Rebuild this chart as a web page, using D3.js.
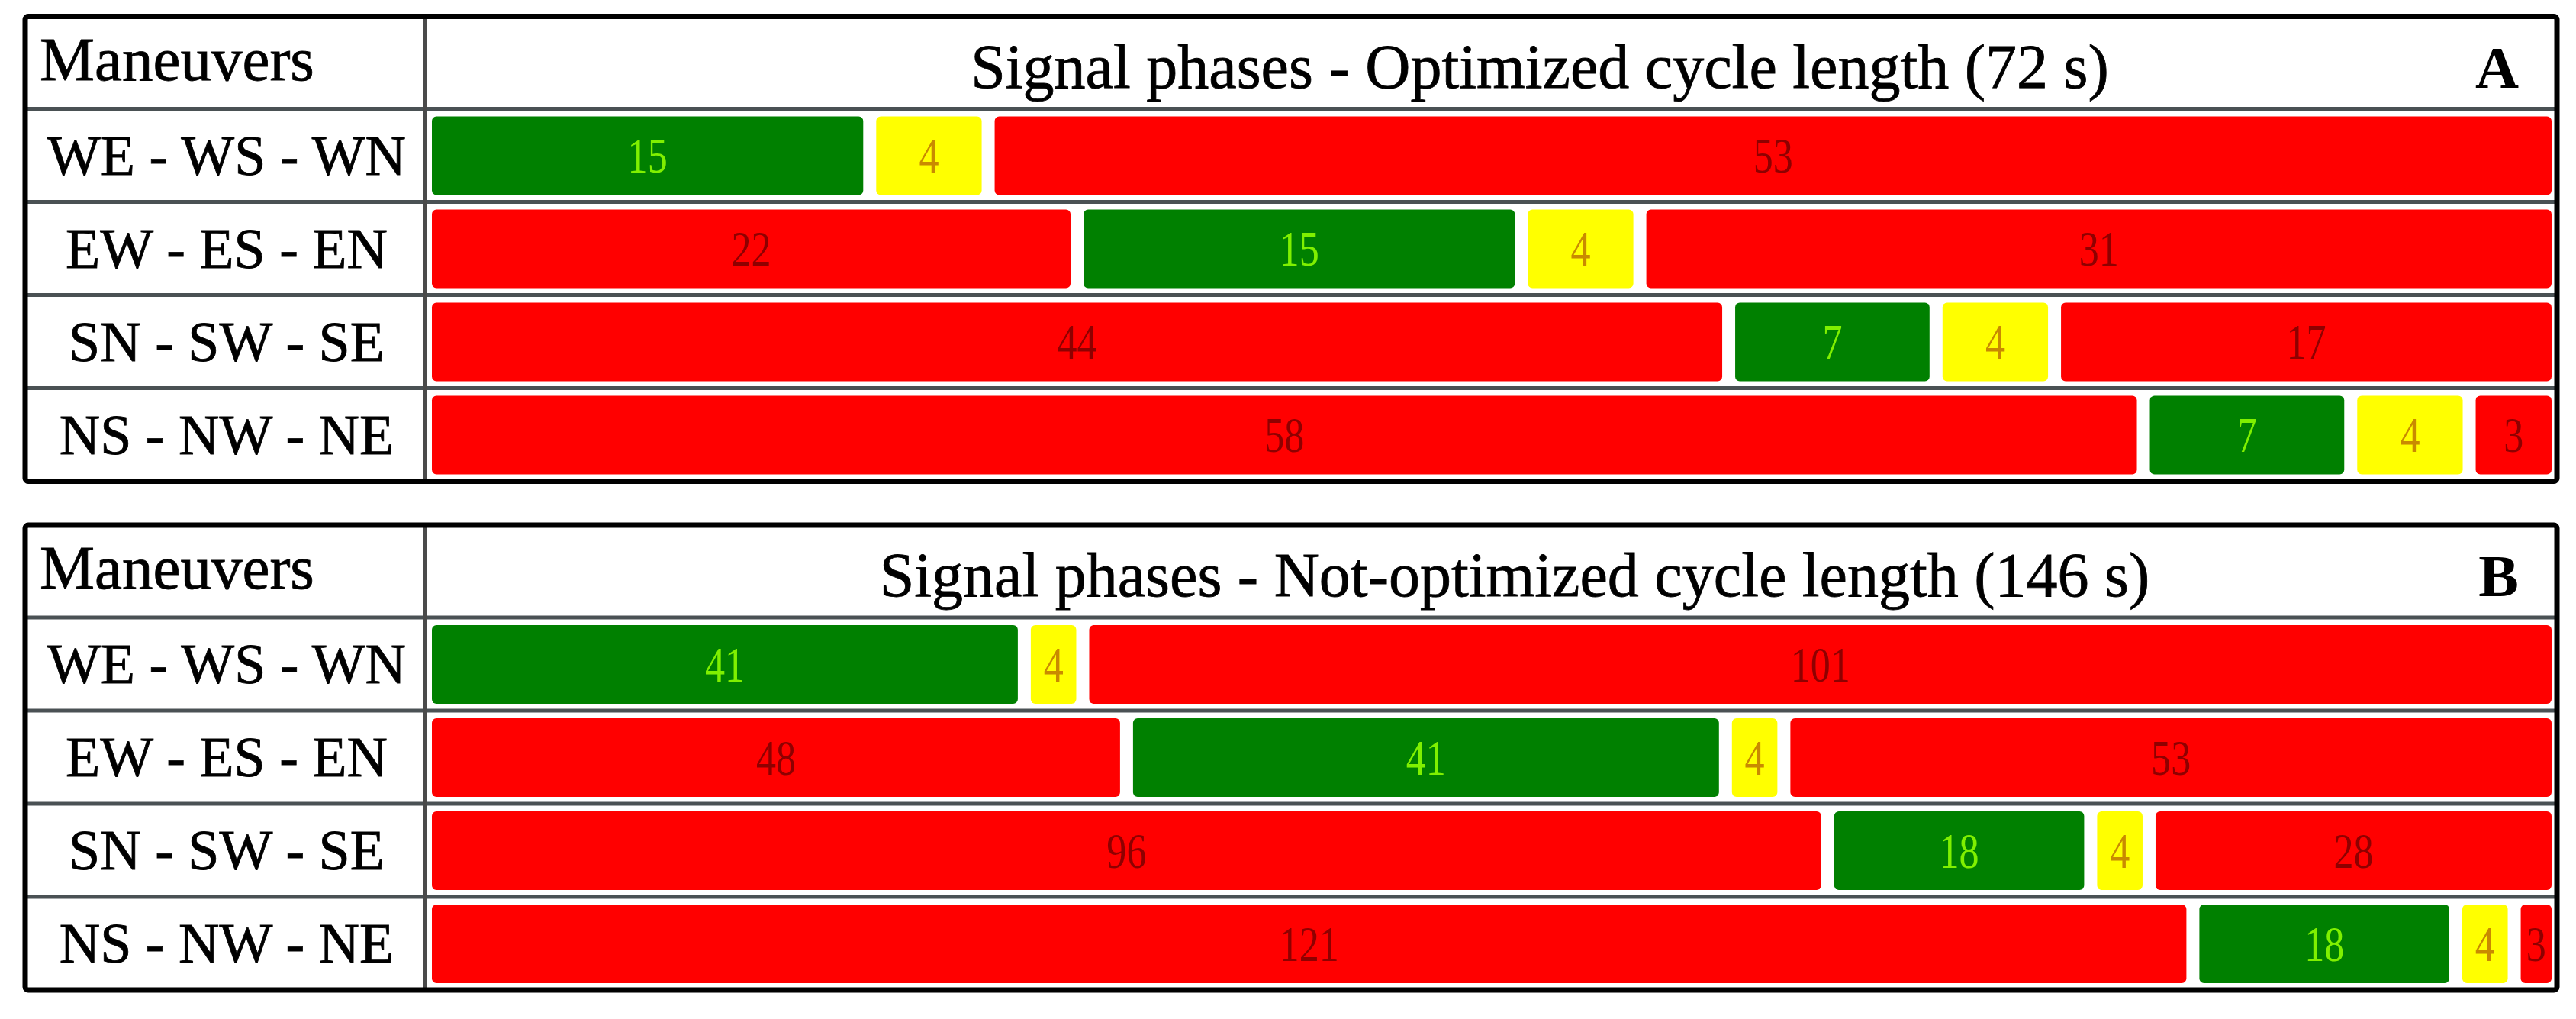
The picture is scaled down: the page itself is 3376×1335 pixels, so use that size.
<!DOCTYPE html>
<html>
<head>
<meta charset="utf-8">
<script src="https://cdn.jsdelivr.net/npm/d3@7"></script>
<style>
  body { margin: 0; background: #fff; }
  svg text { font-family: "Liberation Serif", "Times New Roman", serif; }
</style>
</head>
<body>
<div id="chart"></div>
<script>
// row labels (same for both panels)
let maneuvers = ["WE - WS - WN", "EW - ES - EN", "SN - SW - SE", "NS - NW - NE"];

// panel A - optimized cycle (72 s)
let optTitle = "Signal phases - Optimized cycle length (72 s)";
let optCycle = 72;
let optDurations = [[15, 4, 53], [22, 15, 4, 31], [44, 7, 4, 17], [58, 7, 4, 3]];
let optStates = [["G", "Y", "R"], ["R", "G", "Y", "R"], ["R", "G", "Y", "R"], ["R", "G", "Y", "R"]];

// panel B - not-optimized cycle (146 s)
let notTitle = "Signal phases - Not-optimized cycle length (146 s)";
let notCycle = 146;
let notDurations = [[41, 4, 101], [48, 41, 4, 53], [96, 18, 4, 28], [121, 18, 4, 3]];
let notStates = [["G", "Y", "R"], ["R", "G", "Y", "R"], ["R", "G", "Y", "R"], ["R", "G", "Y", "R"]];

let fill = {G: "#008000", Y: "#ffff00", R: "#ff0000"};
let ink = {G: "#80f000", Y: "#c98a00", R: "#8e0000"};

let W = 3376, H = 1335;
let left = 33, right = 3351, divX = 557;
let barX0 = 566, barX1 = 3344, gap = 17;
let headerH = 121, rowH = 122;
let barTop = 10, barPad = 19;

let svg = d3.select("#chart").append("svg")
    .attr("width", W)
    .attr("height", H);

function drawPanel(top, title, titleX, letter, cycle, durations, states) {
    let g = svg.append("g");
    let bottom = top + headerH + rowH * maneuvers.length;

    let x = d3.scaleLinear()
        .domain([0, cycle])
        .range([barX0, barX1 + gap]);
    let y = d3.scaleBand()
        .domain(maneuvers)
        .range([top + headerH, bottom]);

    // build segments with their start times
    let segs = [];
    maneuvers.forEach(function (m, i) {
        let t = 0;
        durations[i].forEach(function (d, j) {
            segs.push({row: m, start: t, dur: d, state: states[i][j]});
            t += d;
        });
    });

    g.selectAll(".seg")
        .data(segs)
        .enter()
        .append("rect")
        .attr("class", "seg")
        .attr("x", d => x(d.start))
        .attr("y", d => y(d.row) + barTop)
        .attr("width", d => x(d.start + d.dur) - x(d.start) - gap)
        .attr("height", y.bandwidth() - barPad)
        .attr("rx", 6)
        .attr("fill", d => fill[d.state]);

    g.selectAll(".segLabel")
        .data(segs)
        .enter()
        .append("text")
        .attr("class", "segLabel")
        .attr("transform", function (d) {
            let cx = (x(d.start) + x(d.start + d.dur) - gap) / 2;
            let cy = y(d.row) + barTop + (y.bandwidth() - barPad) / 2 + 22;
            return "translate(" + cx + "," + cy + ") scale(0.79,1)";
        })
        .attr("text-anchor", "middle")
        .style("font-size", "66px")
        .style("fill", d => ink[d.state])
        .text(d => d.dur);

    // row labels
    g.selectAll(".rowLabel")
        .data(maneuvers)
        .enter()
        .append("text")
        .attr("class", "rowLabel")
        .attr("x", (left + divX) / 2 + 2)
        .attr("y", d => y(d) + y.bandwidth() / 2 + 25)
        .attr("text-anchor", "middle")
        .style("font-size", "74px")
        .style("stroke", "#000")
        .style("stroke-width", 0.8)
        .text(d => d);

    // header
    g.append("text")
        .attr("x", 52)
        .attr("y", top + 83)
        .style("font-size", "81px")
        .style("stroke", "#000")
        .style("stroke-width", 0.8)
        .text("Maneuvers");
    g.append("text")
        .attr("x", titleX)
        .attr("y", top + 93)
        .attr("text-anchor", "middle")
        .style("font-size", "82px")
        .style("stroke", "#000")
        .style("stroke-width", 0.8)
        .text(title);
    g.append("text")
        .attr("x", 3301)
        .attr("y", top + 93)
        .attr("text-anchor", "end")
        .style("font-size", "79px")
        .style("font-weight", "bold")
        .text(letter);

    // grid lines
    let lines = [top + headerH].concat(maneuvers.slice(0, -1).map(m => y(m) + y.bandwidth()));
    g.selectAll(".hline")
        .data(lines)
        .enter()
        .append("line")
        .attr("x1", left)
        .attr("x2", right)
        .attr("y1", d => d)
        .attr("y2", d => d)
        .attr("stroke", "#4a5154")
        .attr("stroke-width", 5);
    g.append("line")
        .attr("x1", divX).attr("x2", divX)
        .attr("y1", top).attr("y2", bottom)
        .attr("stroke", "#4a4a4a")
        .attr("stroke-width", 5);

    g.append("rect")
        .attr("x", left)
        .attr("y", top)
        .attr("width", right - left)
        .attr("height", bottom - top)
        .attr("rx", 4)
        .attr("fill", "none")
        .attr("stroke", "#000")
        .attr("stroke-width", 7);
}

drawPanel(21.5, optTitle, 2018, "A", optCycle, optDurations, optStates);
drawPanel(688, notTitle, 1985, "B", notCycle, notDurations, notStates);
</script>
</body>
</html>
